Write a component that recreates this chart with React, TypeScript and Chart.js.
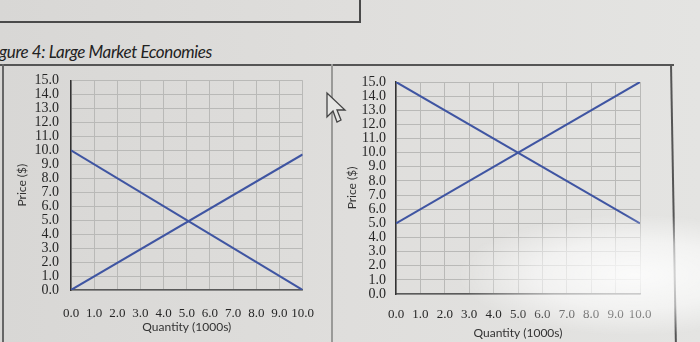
import React, { useEffect, useRef } from "react";
import { Chart, registerables } from "chart.js";

Chart.register(...registerables);

// ---- data ----
const quantities = [0, 10];
const leftDemand = [10, 0];
const leftSupply = [0, 9.7];
const rightDemand = [15, 5];
const rightSupply = [5, 15];
const xMax = 10;
const yMax = 15;
const xTitle = "Quantity (1000s)";
const yTitle = "Price ($)";
const figureTitle = "gure 4: Large Market Economies";

const LINE_COLOR = "#3f55a2";
const GRID_COLOR = "#b9b9b7";
const X_TICK_FONT = { family: "'Liberation Serif', 'Times New Roman', serif", size: 13 };
const Y_TICK_FONT = { family: "'Liberation Serif', 'Times New Roman', serif", size: 14 };
const TITLE_FONT = { family: "Lato, 'Liberation Sans', sans-serif", size: 12 };

type Geo = {
  w: number;
  h: number;
  yAxisW: number;
  xAxisH: number;
  padRight: number;
  padTop: number;
  xTickPad: number;
  yTickPad: number;
  xTitlePad: number;
  yTitlePad: number;
};

function MarketChart(props: { demand: number[]; supply: number[]; geo: Geo; style: any }) {
  const ref = useRef<HTMLCanvasElement | null>(null);
  const { demand, supply, geo } = props;
  useEffect(() => {
    if (!ref.current) return;
    const toPts = (arr: number[]) => quantities.map((q, i) => ({ x: q, y: arr[i] }));
    const chart = new Chart(ref.current, {
      type: "line",
      data: {
        datasets: [
          { data: toPts(demand), borderColor: LINE_COLOR, borderWidth: 2, pointRadius: 0, fill: false },
          { data: toPts(supply), borderColor: LINE_COLOR, borderWidth: 2, pointRadius: 0, fill: false },
        ],
      },
      options: {
        animation: false,
        responsive: false,
        devicePixelRatio: 1,
        layout: { padding: { left: 0, right: geo.padRight, top: geo.padTop, bottom: 0 } },
        plugins: { legend: { display: false }, tooltip: { enabled: false } },
        scales: {
          x: {
            type: "linear",
            min: 0,
            max: xMax,
            ticks: {
              stepSize: 1,
              autoSkip: false,
              maxRotation: 0,
              padding: geo.xTickPad,
              font: X_TICK_FONT,
              color: "#262626",
              callback: (v: any) => Number(v).toFixed(1),
            },
            grid: { color: GRID_COLOR, drawTicks: false, lineWidth: 1 },
            border: { color: "#5a5a5a", width: 1.5 },
            title: {
              display: true,
              text: xTitle,
              font: TITLE_FONT,
              color: "#333",
              padding: { top: 0, bottom: geo.xTitlePad },
            },
            afterFit: (s: any) => {
              s.height = geo.xAxisH;
            },
          },
          y: {
            type: "linear",
            min: 0,
            max: yMax,
            ticks: {
              stepSize: 1,
              autoSkip: false,
              padding: geo.yTickPad,
              font: Y_TICK_FONT,
              color: "#262626",
              callback: (v: any) => Number(v).toFixed(1),
            },
            grid: { color: GRID_COLOR, drawTicks: false, lineWidth: 1 },
            border: { color: "#333", width: 1.5 },
            title: {
              display: true,
              text: yTitle,
              font: TITLE_FONT,
              color: "#333",
              padding: { top: geo.yTitlePad, bottom: 0 },
            },
            afterFit: (s: any) => {
              s.width = geo.yAxisW;
            },
          },
        },
      },
    } as any);
    return () => chart.destroy();
  }, []);
  return (
    <canvas
      ref={ref}
      width={geo.w}
      height={geo.h}
      style={{ position: "absolute", width: geo.w, height: geo.h, ...props.style }}
    />
  );
}

const leftGeo: Geo = {
  w: 330, h: 282, yAxisW: 71, xAxisH: 52, padRight: 24, padTop: 18,
  xTickPad: 16, yTickPad: 12, xTitlePad: 8, yTitlePad: 15,
};
const rightGeo: Geo = {
  w: 340, h: 282, yAxisW: 56, xAxisH: 48, padRight: 40, padTop: 22,
  xTickPad: 13, yTickPad: 10, xTitlePad: 2, yTitlePad: 5,
};

const line = (s: any) => ({ position: "absolute" as const, background: "#4a4a4a", ...s });

export default function App() {
  return (
    <div
      style={{
        position: "fixed",
        left: 0,
        top: 0,
        width: 700,
        height: 342,
        overflow: "hidden",
        background: "linear-gradient(90deg, #d8d7d5 0%, #dfdedc 50%, #e4e4e2 100%)",
      }}
    >
      {/* top box remnant */}
      <div style={line({ left: 0, top: 21, width: 361, height: 1.5 })} />
      <div style={line({ left: 359, top: 0, width: 1.5, height: 22 })} />
      {/* figure frame */}
      <div style={line({ left: 0, top: 64, width: 674, height: 1.5, background: "#555" })} />
      <div style={line({ left: 2, top: 64, width: 1.5, height: 278, background: "#666" })} />
      <div style={line({ left: 331, top: 64, width: 1.5, height: 278, background: "#9a9a98" })} />
      <div style={line({ left: 670, top: 64, width: 1.5, height: 278, background: "#555", transform: "skewX(1deg)", transformOrigin: "top" })} />
      <div
        style={{
          position: "absolute",
          left: -1,
          top: 41,
          fontFamily: "Lato, 'Liberation Sans', sans-serif",
          fontStyle: "italic",
          fontSize: 17,
          letterSpacing: -0.4,
          color: "#222",
          whiteSpace: "nowrap",
        }}
      >
        {figureTitle}
      </div>
      <MarketChart demand={leftDemand} supply={leftSupply} geo={leftGeo} style={{ left: 0, top: 60 }} />
      <MarketChart demand={rightDemand} supply={rightSupply} geo={rightGeo} style={{ left: 340, top: 60 }} />
      {/* mouse cursor in photo */}
      <svg style={{ position: "absolute", left: 325, top: 91 }} width="22" height="34" viewBox="0 0 22 34">
        <path d="M2 2 L2 26 L8 20 L12 31 L16 29 L12 19 L20 19 Z" fill="#e6e6e4" stroke="#444" strokeWidth="1.3" />
      </svg>
      {/* glare */}
      <div
        style={{
          position: "absolute",
          left: 460,
          top: 215,
          width: 280,
          height: 120,
          background: "radial-gradient(ellipse at 62% 50%, rgba(255,255,255,0.85) 0%, rgba(255,255,255,0.55) 40%, rgba(255,255,255,0) 72%)",
          pointerEvents: "none",
        }}
      />
    </div>
  );
}
